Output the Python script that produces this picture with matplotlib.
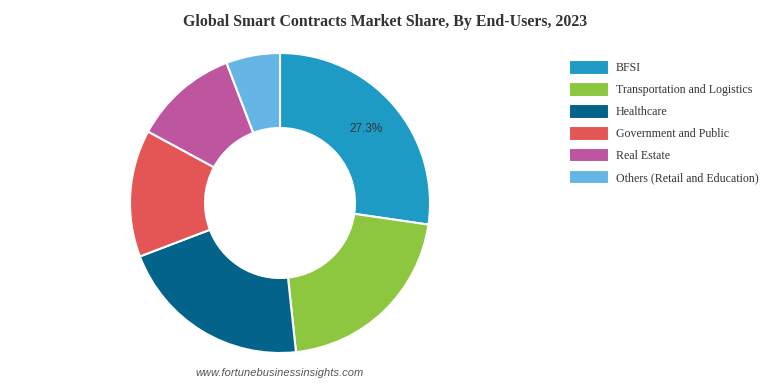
import matplotlib.pyplot as plt

# end-user segments and their share (%) of the 2023 market
segments = ['BFSI', 'Transportation and Logistics', 'Healthcare',
            'Government and Public', 'Real Estate', 'Others (Retail and Education)']
shares = [27.3, 21.0, 20.9, 13.7, 11.3, 5.8]
colors = ['#1e9bc5', '#8dc63f', '#04638b', '#e45656', '#bd559f', '#66b6e5']

fig = plt.figure(figsize=(7.7, 3.85), dpi=100)
ax = fig.add_axes([130 / 770, 32 / 385, 300 / 770, 300 / 385])

wedges, texts, autotexts = ax.pie(
    shares, colors=colors, startangle=90, counterclock=False,
    wedgeprops=dict(width=0.5, edgecolor='white', linewidth=1.5),
    autopct=lambda p: '%.1f%%' % p if p > 25 else '', pctdistance=0.755,
    textprops=dict(fontsize=8.5, color='#333333', family='Liberation Sans'))
ax.set_xlim(-1, 1)
ax.set_ylim(-1, 1)
ax.set_aspect('equal')

fig.text(385 / 770, 1 - 22 / 385, 'Global Smart Contracts Market Share, By End-Users, 2023',
         ha='center', va='center', fontsize=11.4, fontweight='bold',
         family='Liberation Serif', color='#333333')

fig.legend(wedges, segments, loc='upper left', bbox_to_anchor=(569 / 770, 1 - 60 / 385),
           frameon=False, prop=dict(family='Liberation Serif', size=8.6),
           handlelength=3.35, handleheight=1.5, labelspacing=0.62, handletextpad=0.55,
           borderaxespad=0, borderpad=0, labelcolor='#333333')

fig.text(280 / 770, 1 - 373 / 385, 'www.fortunebusinessinsights.com',
         ha='center', va='center', fontsize=8, style='italic',
         family='Liberation Sans', color='#555555')

fig.savefig('out.png', dpi=100)
